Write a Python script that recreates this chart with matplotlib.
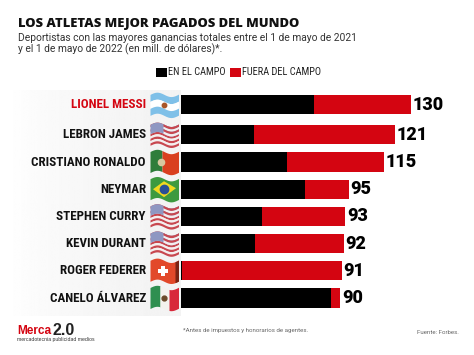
import numpy as np
import matplotlib
matplotlib.use("Agg")
import matplotlib.pyplot as plt

# Data
players = ["LIONEL MESSI", "LEBRON JAMES", "CRISTIANO RONALDO", "NEYMAR",
           "STEPHEN CURRY", "KEVIN DURANT", "ROGER FEDERER", "CANELO ÁLVAREZ"]
en_campo = [75, 41.2, 60, 70, 45.9, 41.9, 0.7, 85]
fuera_campo = [55, 79.8, 55, 25, 47.1, 50.1, 90.3, 5]
totales = [130, 121, 115, 95, 93, 92, 91, 90]
paises = ["ar", "us", "pt", "br", "us", "us", "ch", "mx"]

NEGRO = "#000000"
ROJO = "#d40511"
NARROW = ["Roboto Condensed", "DejaVu Sans"]

fig = plt.figure(figsize=(4.74, 3.55), dpi=100)

# full figure axes in pixel units, for the panel, flags and header
bg = fig.add_axes([0, 0, 1, 1])
bg.axis("off")

grad = np.linspace(1, 0, 256).reshape(1, -1)
grad = 0.955 + 0.045 * grad ** 2
bg.imshow(grad, extent=(5, 181, 316, 90), cmap="gray", vmin=0, vmax=1,
          aspect="auto", zorder=0)
bg.set_xlim(0, 474)
bg.set_ylim(355, 0)


def wave_band(x0, x1, y0, y1, cy, color):
    # one stripe of a waving flag, y0/y1 are fractions of the flag height
    x = np.linspace(x0, x1, 30)
    off = -2.2 * np.sin((x - 150) / 28 * 2 * np.pi)
    h = 21
    top = cy - h / 2 + y0 * h + off
    bot = cy - h / 2 + y1 * h + off
    bg.fill_between(x, top, bot, color=color, lw=0, zorder=2)


def draw_flag(kind, cy):
    if kind == "ar":
        wave_band(150, 178.5, 0, 1 / 3, cy, "#7fc0e8")
        wave_band(150, 178.5, 1 / 3, 2 / 3, cy, "#ffffff")
        wave_band(150, 178.5, 2 / 3, 1, cy, "#7fc0e8")
        bg.plot([164], [cy], "o", ms=3.2, color="#a8562a", zorder=3)
    elif kind == "us":
        for i in range(9):
            c = "#c8474f" if i % 2 == 0 else "#f4eeee"
            wave_band(150, 178.5, i / 9, (i + 1) / 9, cy, c)
        wave_band(150, 178.5, 0, 0.45, cy, "#8f97c2")
        for i in range(4):
            c = "#c8474f" if i % 2 == 0 else "#f4eeee"
            wave_band(163, 178.5, i * 0.45 / 4, (i + 1) * 0.45 / 4, cy, c)
    elif kind == "pt":
        wave_band(150, 162, 0, 1, cy, "#2f7d3a")
        wave_band(162, 178.5, 0, 1, cy, "#d9401f")
        bg.plot([161], [cy], "o", ms=4.5, color="#d8c8a0", zorder=3)
    elif kind == "br":
        wave_band(150, 178.5, 0, 1, cy, "#3d9a3f")
        bg.fill([153, 164, 176, 164], [cy, cy - 8, cy - 1, cy + 8],
                color="#f0d820", lw=0, zorder=3)
        bg.plot([164], [cy], "o", ms=6, color="#2a4f96", zorder=4)
    elif kind == "ch":
        wave_band(150, 178.5, 0, 1, cy, "#e2492a")
        wave_band(175, 178.5, 0, 1, cy, "#7a2414")
        bg.plot([163], [cy], "P", ms=7.5, color="white", mew=0, zorder=3)
    elif kind == "mx":
        wave_band(150, 160, 0, 1, cy, "#2f8f50")
        wave_band(160, 169, 0, 1, cy, "#f4f2ee")
        wave_band(169, 178.5, 0, 1, cy, "#d8283a")
        bg.plot([164], [cy], "o", ms=3.5, color="#6b4a2a", zorder=3)


# bars, axes placed so the x scale is 1.767 px per million
ax = fig.add_axes([181 / 474, (355 - 315) / 355, 293 / 474, 225 / 355])
ax.patch.set_alpha(0)
ax.set_xlim(0, 293 / 1.767)
ax.set_ylim(7.625, -0.647)
ax.axis("off")

y = np.arange(len(players), dtype=float)
y[0] = -0.1  # Messi row sits a bit apart
ax.barh(y, en_campo, height=0.7, color=NEGRO)
ax.barh(y, fuera_campo, left=en_campo, height=0.7, color=ROJO)

for i, name in enumerate(players):
    cy = 107.6 + 27.2 * y[i]
    bg.text(146, cy, name, ha="right", va="center", family=NARROW,
            weight="bold", fontsize=9.4,
            color=ROJO if i == 0 else "#111111")
    draw_flag(paises[i], cy)
    ax.text(totales[i] + 1.0, y[i], str(totales[i]), ha="left", va="center",
            family=["Roboto", "DejaVu Sans"], weight=900, fontsize=13,
            color=NEGRO)

# header
bg.text(18, 24.5, "LOS ATLETAS MEJOR PAGADOS DEL MUNDO", ha="left", va="center",
        family=["Open Sans", "DejaVu Sans"], weight=800, fontsize=9.35, color="#111111")
bg.text(18, 38, "Deportistas con las mayores ganancias totales entre el 1 de mayo de 2021",
        ha="left", va="center", family=["Roboto", "DejaVu Sans"], fontsize=7.4, color="#333333")
bg.text(18, 49, "y el 1 de mayo de 2022 (en mill. de dólares)*.",
        ha="left", va="center", family=["Roboto", "DejaVu Sans"], fontsize=7.4, color="#333333")

# legend
bg.fill([156, 167, 167, 156], [67.5, 67.5, 77, 77], color=NEGRO, lw=0)
bg.text(168, 72, "EN EL CAMPO", ha="left", va="center", family=NARROW,
        fontsize=7.5, color="#222222")
bg.fill([230, 241, 241, 230], [67.5, 67.5, 77, 77], color=ROJO, lw=0)
bg.text(242.5, 72, "FUERA DEL CAMPO", ha="left", va="center", family=NARROW,
        fontsize=7.5, color="#222222")

# footer
bg.text(17.5, 331, "Merca", ha="left", va="center", family=["Liberation Sans"],
        weight="bold", fontsize=8.6, color=ROJO)
bg.text(53, 330.5, "2.0", ha="left", va="center", family=["Liberation Sans"],
        weight="bold", fontsize=11.5, color="#222222")
bg.text(17.5, 339, "mercadotecnia publicidad medios", ha="left", va="center",
        family=["Liberation Sans"], fontsize=3.7, color="#333333")
bg.text(183, 330.5, "*Antes de impuestos y honorarios de agentes.", ha="left",
        va="center", family=["Roboto", "DejaVu Sans"], fontsize=4.4, color="#666666")
bg.text(417.5, 332.5, "Fuente: Forbes.", ha="left", va="center",
        family=["Roboto", "DejaVu Sans"], fontsize=4.4, color="#666666")

fig.savefig("out.png", dpi=100)
